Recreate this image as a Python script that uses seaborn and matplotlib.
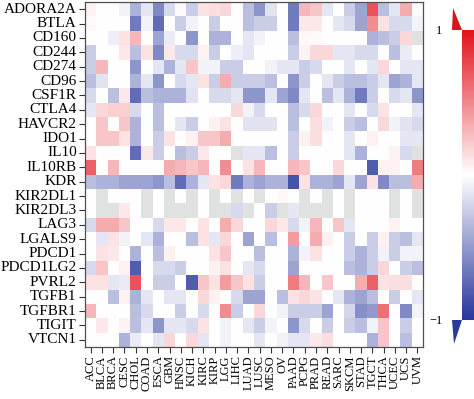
import numpy as np
import pandas as pd
import matplotlib
matplotlib.use("Agg")
import matplotlib.pyplot as plt
from matplotlib.colors import LinearSegmentedColormap
from matplotlib.patches import Polygon
import seaborn as sns

nan = np.nan

# tumour types (columns)
cancers = ["ACC", "BLCA", "BRCA", "CESC", "CHOL", "COAD", "ESCA", "GBM", "HNSC", "KICH",
           "KIRC", "KIRP", "LGG", "LIHC", "LUAD", "LUSC", "MESO", "OV", "PAAD", "PCPG",
           "PRAD", "READ", "SARC", "SKCM", "STAD", "TGCT", "THCA", "UCEC", "UCS", "UVM"]

# correlation per gene, one list per row (grey cells = NA)
ADORA2A = [0.06, 0, 0, -0.06, -0.38, -0.12, -0.58, -0.18, 0.02, -0.25, 0.12, 0.14, 0.17, 0, -0.32,
           -0.52, -0.14, 0, -0.65, 0.3, 0.24, -0.12, 0, -0.25, -0.45, 0.72, -0.32, -0.12, 0.35, 0.02]
BTLA = [0.02, 0, 0, 0, -0.65, -0.06, -0.72, 0, -0.25, -0.06, 0, -0.25, 0, 0, -0.32,
        -0.25, -0.25, 0, -0.65, 0.1, 0.1, 0, -0.12, -0.18, -0.45, 0.48, 0.12, -0.18, -0.18, -0.06]
CD160 = [0, 0, -0.08, 0.12, 0.3, 0, -0.45, -0.1, 0, -0.52, 0, -0.38, -0.38, 0, -0.12,
         -0.06, 0, 0, -0.32, 0.03, 0.02, 0, 0, 0, 0, -0.38, -0.32, -0.25, 0.17, nan]
CD244 = [-0.25, 0, 0, 0.1, -0.32, 0.12, -0.58, 0.1, -0.18, -0.18, 0.06, -0.25, 0, -0.08, -0.12,
         0, 0, 0, -0.25, 0.05, 0.17, 0.17, -0.12, -0.12, -0.18, -0.18, 0, -0.32, -0.1, 0]
CD274 = [-0.25, 0.3, 0, 0, -0.52, 0, -0.12, -0.38, -0.12, 0.24, -0.06, -0.06, -0.25, -0.25, 0,
         0, -0.06, -0.12, -0.12, -0.25, -0.18, 0, 0, -0.12, 0, -0.12, 0.17, 0, -0.12, -0.12]
CD96 = [-0.32, -0.14, 0, 0, -0.38, -0.12, -0.52, 0, -0.18, -0.12, 0.12, -0.25, 0.35, -0.25, -0.25,
        -0.25, -0.32, 0, -0.52, -0.25, 0, -0.12, -0.25, -0.32, -0.32, -0.25, -0.12, -0.45, -0.38, -0.12]
CSF1R = [-0.18, 0, -0.32, 0.1, -0.72, -0.32, -0.38, -0.38, -0.38, -0.14, 0, -0.18, -0.18, -0.12, -0.52,
         -0.52, -0.12, -0.45, -0.58, -0.12, 0, -0.32, -0.12, -0.38, -0.65, -0.25, 0, -0.18, -0.12, -0.52]
CTLA4 = [-0.12, 0.17, 0.2, 0.2, -0.18, 0, -0.32, 0, 0, 0, 0, 0, 0, 0.17, -0.06,
         -0.18, 0, 0, -0.32, -0.18, 0.17, 0, 0, -0.12, 0, -0.18, 0.12, 0, 0, -0.12]
HAVCR2 = [0, 0.24, 0, 0.24, -0.38, 0, -0.32, 0, -0.12, -0.25, 0, 0.06, 0.12, 0, -0.14,
          -0.14, -0.14, 0, -0.32, 0, 0.14, -0.06, 0, -0.25, -0.32, 0, 0.17, -0.06, -0.14, -0.18]
IDO1 = [0, 0.24, 0.24, 0.12, -0.38, 0, -0.25, 0.12, 0, 0.06, 0.24, 0.24, 0.35, 0, 0,
        0, 0, 0, -0.25, 0.06, 0.14, 0, 0, -0.12, 0, 0.06, 0, 0, -0.12, -0.12]
IL10 = [0.12, 0, 0, 0, -0.72, 0.1, -0.25, 0, -0.32, -0.25, 0.1, 0, 0, nan, -0.12,
        -0.12, -0.32, 0, -0.25, 0, 0, 0, 0, -0.12, -0.38, 0, 0, 0.06, -0.18, nan]
IL10RB = [0.66, 0, 0.3, 0, 0, 0, 0, 0.35, 0.3, 0.24, 0.3, 0, 0.48, 0, 0.12,
          0.3, 0, 0, 0.3, 0.24, 0, 0, 0.17, 0, 0, -0.8, 0.06, 0.06, 0, 0.55]
KDR = [-0.32, -0.38, -0.38, -0.45, -0.45, -0.45, -0.52, -0.32, -0.72, -0.38, -0.12, 0.12, 0.17, -0.65, -0.38,
       -0.45, -0.38, -0.38, -0.85, 0.12, -0.38, -0.38, -0.45, -0.12, -0.45, 0.12, -0.58, -0.32, -0.32, 0.35]
KIR2DL1 = [0, nan, 0, 0, 0, nan, 0, nan, 0, nan, 0, nan, 0, nan, 0,
           nan, 0, 0.03, 0, nan, 0, nan, 0, nan, 0, 0, 0, nan, 0, nan]
KIR2DL3 = [0, nan, nan, 0.1, 0, nan, 0, nan, nan, nan, 0, nan, nan, -0.18, nan,
           0, -0.25, nan, -0.12, nan, nan, nan, 0, nan, 0, 0, 0, nan, 0, nan]
LAG3 = [-0.18, 0.35, 0.35, 0.24, 0, 0, -0.18, 0.1, 0.1, 0, 0.12, 0, 0.35, 0.17, 0,
        0, 0.17, 0.1, -0.18, -0.06, 0.3, 0, 0.24, -0.12, 0, 0, 0, 0.06, 0, 0]
LGALS9 = [0, -0.12, 0.12, -0.06, 0, -0.12, -0.38, 0, 0, -0.32, 0.12, -0.12, 0.17, 0, -0.45,
          0, -0.32, 0, 0.42, 0, 0.35, 0.06, 0, -0.25, 0, -0.25, 0.06, -0.25, -0.32, -0.12]
PDCD1 = [0, 0.12, 0.1, 0, -0.38, 0, -0.32, 0.06, 0, 0, 0, 0.12, 0.24, 0, 0,
         -0.32, 0, 0, -0.38, -0.06, 0.12, 0, 0, -0.25, -0.38, -0.25, -0.06, -0.25, -0.06, -0.06]
PDCD1LG2 = [-0.18, 0.24, 0, 0.06, -0.8, 0, -0.18, -0.18, -0.25, 0, 0, 0.06, 0.12, 0, -0.12,
            -0.18, 0, 0, -0.45, 0, 0, 0, 0, -0.32, -0.38, -0.25, 0.17, 0, -0.25, -0.32]
PVRL2 = [0.12, 0.12, -0.12, -0.1, 0.72, 0, -0.25, -0.25, 0, -0.8, 0.24, 0.12, 0.42, 0.24, 0.12,
         -0.25, 0, 0, 0.55, 0.3, 0, 0.24, 0, 0, 0.35, 0.66, 0.12, 0.14, 0.14, 0]
TGFB1 = [0, 0, -0.32, 0.06, -0.38, -0.12, 0, -0.12, -0.12, 0, 0.17, 0.06, 0, -0.18, -0.45,
         -0.45, 0, -0.32, 0.12, 0.17, 0.12, 0, -0.12, -0.38, -0.45, -0.32, 0, -0.25, 0, -0.12]
TGFBR1 = [0.3, 0, 0, 0, -0.32, -0.18, 0, 0, -0.25, 0, -0.18, 0, 0.48, -0.25, 0,
          0.17, 0, -0.06, -0.25, -0.25, -0.25, -0.45, 0, -0.2, -0.55, -0.5, 0.6, 0, -0.58, -0.06]
TIGIT = [0, 0.1, 0, 0.06, -0.32, -0.12, -0.52, -0.12, -0.12, -0.18, 0.12, 0, -0.06, 0, -0.12,
         -0.25, -0.06, 0, -0.52, -0.18, 0, -0.25, 0, -0.25, -0.32, -0.06, 0.24, 0, -0.25, 0]
VTCN1 = [0, 0, 0, -0.38, -0.1, 0, -0.12, 0.17, 0, 0.17, -0.12, 0, -0.06, 0, 0,
         -0.12, 0, -0.06, -0.12, -0.12, 0.1, 0.14, 0, 0, 0, -0.38, 0.24, 0, -0.32, 0]

genes = ["ADORA2A", "BTLA", "CD160", "CD244", "CD274", "CD96", "CSF1R", "CTLA4", "HAVCR2",
         "IDO1", "IL10", "IL10RB", "KDR", "KIR2DL1", "KIR2DL3", "LAG3", "LGALS9", "PDCD1",
         "PDCD1LG2", "PVRL2", "TGFB1", "TGFBR1", "TIGIT", "VTCN1"]
rows = [ADORA2A, BTLA, CD160, CD244, CD274, CD96, CSF1R, CTLA4, HAVCR2, IDO1, IL10, IL10RB,
        KDR, KIR2DL1, KIR2DL3, LAG3, LGALS9, PDCD1, PDCD1LG2, PVRL2, TGFB1, TGFBR1, TIGIT, VTCN1]

df = pd.DataFrame(rows, index=genes, columns=cancers)

# %%
plt.rcParams['font.family'] = ['Liberation Serif', 'DejaVu Serif']

W, H = 474, 399
fig = plt.figure(figsize=(W / 100, H / 100), dpi=100)
ax = fig.add_axes([85 / W, 1 - 347 / H, 338 / W, 345 / H])
cax = fig.add_axes([462 / W, 1 - 320 / H, 30 / W, 290 / H])

cmap = LinearSegmentedColormap.from_list("bwr2", ["#25359B", "#FFFFFF", "#E3111B"])

sns.heatmap(df, ax=ax, cbar_ax=cax, cmap=cmap, vmin=-1, vmax=1,
            xticklabels=cancers, yticklabels=genes,
            cbar_kws={'ticks': [-1, 1]})

ax.set_facecolor('#E0E2E1')  # NA cells
for s in ax.spines.values():
    s.set_visible(True)
    s.set_color('#505050')
    s.set_linewidth(0.9)
ax.tick_params(axis='both', length=4, width=0.8, color='#333333', pad=2)
ax.set_xticklabels(cancers, rotation=90, fontsize=9)
ax.set_yticklabels(genes, rotation=0, fontsize=11)
ax.set_xlabel('')
ax.set_ylabel('')

# colorbar: labels on the left, little pointed ends
cax.yaxis.set_ticks_position('left')
cax.tick_params(length=0, labelsize=9, pad=14)
cax.set_yticklabels(['\u22121', '1'])
for s in cax.spines.values():
    s.set_visible(False)
cbar = ax.collections[0].colorbar
cbar.outline.set_visible(False)

top_tri = Polygon([(452 / W, 1 - 30 / H), (462 / W, 1 - 30 / H), (453 / W, 1 - 8 / H)],
                  closed=True, transform=fig.transFigure, color='#D8141C', lw=0)
bot_tri = Polygon([(452 / W, 1 - 320 / H), (462 / W, 1 - 320 / H), (454 / W, 1 - 344 / H)],
                  closed=True, transform=fig.transFigure, color='#2A3A9C', lw=0)
fig.patches.extend([top_tri, bot_tri])

fig.savefig('out.png', dpi=100)
